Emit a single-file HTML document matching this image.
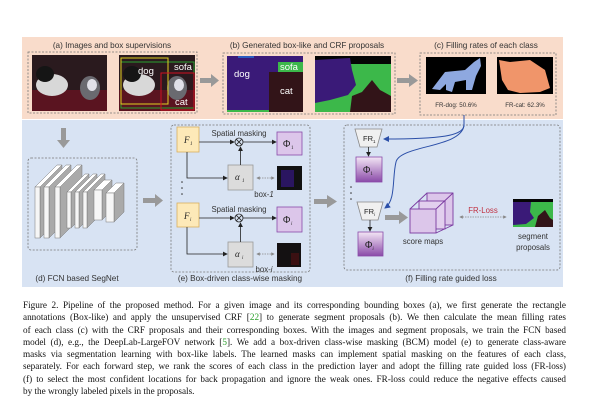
<!DOCTYPE html>
<html><head><meta charset="utf-8"><style>
html,body{margin:0;padding:0;background:#fff;width:600px;height:407px;overflow:hidden}
svg{position:absolute;left:0;top:0}
.cap{position:absolute;left:23px;top:299px;width:543px;font-family:"Liberation Serif",serif;font-size:9.2px;line-height:12.3px;color:#111}
.cap div{text-align:justify;text-align-last:justify;white-space:nowrap}
.cap div.last{text-align-last:left}
.g{color:#2ca02c}
</style></head><body>
<svg width="600" height="407" viewBox="0 0 600 407" font-family="Liberation Sans, sans-serif">
<defs>
<linearGradient id="pg" x1="0" y1="0" x2="0" y2="1"><stop offset="0" stop-color="#f3e6f5"/><stop offset="1" stop-color="#8a4aa8"/></linearGradient>
<marker id="ah" markerWidth="6" markerHeight="6" refX="5" refY="3" orient="auto"><path d="M0,0 L6,3 L0,6 z" fill="#222"/></marker>
<marker id="bh" markerWidth="6" markerHeight="6" refX="5" refY="3" orient="auto"><path d="M0,0 L6,3 L0,6 z" fill="#2b4fa8"/></marker>
<marker id="dh" markerWidth="5" markerHeight="5" refX="4" refY="2.5" orient="auto"><path d="M0,0 L5,2.5 L0,5 z" fill="#888"/></marker>
<marker id="dt" markerWidth="5" markerHeight="5" refX="1" refY="2.5" orient="auto"><path d="M5,0 L0,2.5 L5,5 z" fill="#888"/></marker>
</defs>
<rect x="22" y="37" width="541" height="82" fill="#f9dccb"/>
<rect x="22" y="120" width="541" height="167" fill="#d8e3f3"/>
<g font-size="8.2" fill="#333" text-anchor="middle">
<text x="112" y="48">(a) Images and box supervisions</text>
<text x="307" y="48">(b) Generated box-like and CRF proposals</text>
<text x="486" y="48">(c) Filling rates of each class</text>
</g>
<g fill="none" stroke="#777" stroke-dasharray="2,1.5" stroke-width="0.8">
<rect x="28" y="52" width="169" height="61"/>
<rect x="223" y="53" width="172" height="61" />
<rect x="420" y="53" width="136" height="62" />
</g>
<rect x="32" y="55" width="75" height="56" fill="#2a1a1e"/>
<rect x="32" y="90" width="75" height="21" fill="#5a1420"/>
<ellipse cx="52" cy="85" rx="16" ry="11" fill="#d8d8d8"/>
<ellipse cx="45" cy="74" rx="9" ry="8" fill="#151515"/>
<ellipse cx="90" cy="88" rx="10" ry="12" fill="#6a6a70"/>
<ellipse cx="92" cy="85" rx="5" ry="6" fill="#e0e0e8"/>
<rect x="119" y="55" width="76" height="56" fill="#2a1a1e"/>
<rect x="119" y="90" width="76" height="21" fill="#5a1420"/>
<ellipse cx="139" cy="85" rx="16" ry="11" fill="#d8d8d8"/>
<ellipse cx="132" cy="74" rx="9" ry="8" fill="#151515"/>
<ellipse cx="177" cy="88" rx="10" ry="12" fill="#6a6a70"/>
<ellipse cx="179" cy="85" rx="5" ry="6" fill="#e0e0e8"/>
<rect x="121" y="62" width="73" height="46" fill="none" stroke="#2aa030" stroke-width="1"/>
<rect x="121" y="58" width="47" height="46" fill="none" stroke="#e0d020" stroke-width="1"/>
<rect x="161" y="73" width="33" height="37" fill="none" stroke="#d01020" stroke-width="1"/>
<g fill="#fff" font-size="9.5"><text x="138" y="74">dog</text><text x="174" y="70">sofa</text><text x="175" y="105">cat</text></g>
<rect x="227" y="56" width="76" height="56" fill="#3a1a78"/>
<rect x="238" y="56" width="16" height="2" fill="#2a5ac0"/>
<rect x="278" y="62" width="25" height="10" fill="#3cb84a"/>
<rect x="269" y="72" width="34" height="40" fill="#321418"/>
<rect x="227" y="110" width="42" height="2" fill="#3cb84a"/>
<g fill="#fff" font-size="9.5"><text x="234" y="77">dog</text><text x="280" y="70">sofa</text><text x="280" y="94">cat</text></g>
<rect x="315" y="56" width="76" height="56" fill="#3cb84a"/>
<rect x="315" y="56" width="76" height="8" fill="#050505"/>
<path d="M315,60 L350,58 L352,70 L356,85 L348,95 L330,100 L315,103 Z" fill="#3a1a78"/>
<path d="M350,112 L352,96 L362,92 L372,80 L380,90 L391,96 L391,112 Z" fill="#321418"/>
<rect x="426" y="57" width="60" height="37" fill="#000"/>
<path d="M432,89 L445,72 L465,70 L474,62 L480,58 L481,66 L476,76 L472,90 L466,90 L466,80 L455,82 L452,92 L446,90 L446,84 L440,90 Z" fill="#8ea8e0"/>
<rect x="497" y="57" width="56" height="37" fill="#000"/>
<path d="M499,60 L510,62 L530,60 L545,70 L550,88 L540,92 L520,93 L508,90 L502,80 Z" fill="#f0956a"/>
<g font-size="6.2" fill="#333" text-anchor="middle"><text x="456" y="107">FR-dog: 50.6%</text><text x="525" y="107">FR-cat: 62.3%</text></g>
<g fill="#999">
<path d="M200,78 L211,78 L211,74 L219,80.5 L211,87 L211,83 L200,83 Z"/>
<path d="M397,78 L409,78 L409,74 L418,80.5 L409,87 L409,83 L397,83 Z"/>
<path d="M61,128 L66,128 L66,140 L70,140 L63.5,148 L57,140 L61,140 Z"/>
<path d="M143,198 L155,198 L155,194 L163,200.5 L155,207 L155,203 L143,203 Z"/>
<path d="M314,199 L327,199 L327,195 L337,201.5 L327,208 L327,204 L314,204 Z"/>
<path d="M385,215 L399,215 L399,211 L408,217.5 L399,224 L399,220 L385,220 Z"/>
</g>
<!-- d -->
<rect x="28" y="158" width="109" height="92" rx="3" fill="none" stroke="#777" stroke-dasharray="2,1.5" stroke-width="0.8"/>
<g stroke="#777" stroke-width="0.5">
<g><path d="M35,187 l22,-22 h5 l-22,22 z" fill="#fff"/><path d="M40,187 l22,-22 v51 l-22,22 z" fill="#aaa"/><rect x="35" y="187" width="5" height="51" fill="#f6f6f6"/></g>
<g><path d="M44,187 l22,-22 h5 l-22,22 z" fill="#fff"/><path d="M49,187 l22,-22 v51 l-22,22 z" fill="#aaa"/><rect x="44" y="187" width="5" height="51" fill="#f6f6f6"/></g>
<g><path d="M55,187 l22,-22 h5 l-22,22 z" fill="#fff"/><path d="M60,187 l22,-22 v51 l-22,22 z" fill="#aaa"/><rect x="55" y="187" width="5" height="51" fill="#f6f6f6"/></g>
<g><path d="M67,192 l18,-18 h4 l-18,18 z" fill="#fff"/><path d="M71,192 l18,-18 v36 l-18,18 z" fill="#aaa"/><rect x="67" y="192" width="4" height="36" fill="#f6f6f6"/></g>
<g><path d="M75,192 l18,-18 h4 l-18,18 z" fill="#fff"/><path d="M79,192 l18,-18 v36 l-18,18 z" fill="#aaa"/><rect x="75" y="192" width="4" height="36" fill="#f6f6f6"/></g>
<g><path d="M83,192 l18,-18 h4 l-18,18 z" fill="#fff"/><path d="M87,192 l18,-18 v36 l-18,18 z" fill="#aaa"/><rect x="83" y="192" width="4" height="36" fill="#f6f6f6"/></g>
<g><path d="M94,190 l10,-10 h8 l-10,10 z" fill="#fff"/><path d="M102,190 l10,-10 v30 l-10,10 z" fill="#aaa"/><rect x="94" y="190" width="8" height="30" fill="#f6f6f6"/></g>
<g><path d="M106,193 l10,-10 h8 l-10,10 z" fill="#fff"/><path d="M114,193 l10,-10 v29 l-10,10 z" fill="#aaa"/><rect x="106" y="193" width="8" height="29" fill="#f6f6f6"/></g>
</g>
<g font-size="8.2" fill="#333" text-anchor="middle">
<text x="77" y="281">(d) FCN based SegNet</text>
<text x="240" y="281">(e) Box-driven class-wise masking</text>
<text x="451" y="281">(f) Filling rate guided loss</text>
</g>
<!-- e -->
<rect x="171" y="125" width="139" height="147" rx="3" fill="none" stroke="#777" stroke-dasharray="2,1.5" stroke-width="0.8"/>
<g stroke="#999" stroke-width="0.8">
<rect x="177" y="127" width="22" height="25" fill="#fde9b8" stroke="#d9b060"/>
<rect x="177" y="203" width="22" height="24" fill="#fde9b8" stroke="#d9b060"/>
<rect x="228" y="165" width="25" height="25" fill="#dcdcdc"/>
<rect x="228" y="242" width="25" height="25" fill="#dcdcdc"/>
<rect x="277" y="132" width="25" height="23" fill="#dcc6ea" stroke="#8a4aa8"/>
<rect x="277" y="207" width="25" height="25" fill="#dcc6ea" stroke="#8a4aa8"/>
</g>
<rect x="277" y="166" width="25" height="24" fill="#111"/><rect x="281" y="170" width="13" height="17" fill="#2a1560"/>
<rect x="277" y="243" width="24" height="24" fill="#141112"/><rect x="291" y="253" width="8" height="12" fill="#3a1012"/>
<g font-family="Liberation Serif, serif" font-style="italic" font-size="9" fill="#222">
<text x="184" y="143">F</text><text x="190" y="145" font-size="5">1</text>
<text x="184" y="219">F</text><text x="190" y="221" font-size="5">i</text>
<text x="235" y="180">α</text><text x="242" y="182" font-size="5">1</text>
<text x="235" y="257">α</text><text x="242" y="259" font-size="5">i</text>
</g>
<g font-family="Liberation Serif, serif" font-size="10" fill="#222">
<text x="283" y="147">Φ</text><text x="291" y="149" font-size="5">1</text>
<text x="283" y="223">Φ</text><text x="291" y="225" font-size="5" font-style="italic">i</text>
</g>
<g font-size="7.8" fill="#333" text-anchor="middle">
<text x="239" y="136">Spatial masking</text>
<text x="239" y="212">Spatial masking</text>
<text x="264" y="197">box-<tspan font-style="italic">1</tspan></text>
<text x="264" y="272">box-<tspan font-style="italic">i</tspan></text>
</g>
<g stroke="#222" stroke-width="0.8" fill="none">
<circle cx="239" cy="142" r="4"/><path d="M236.2,139.2 l5.6,5.6 M241.8,139.2 l-5.6,5.6"/>
<circle cx="239" cy="218" r="4"/><path d="M236.2,215.2 l5.6,5.6 M241.8,215.2 l-5.6,5.6"/>
<path d="M199,142 H234" marker-end="url(#ah)"/><path d="M243,142 H276" marker-end="url(#ah)"/>
<path d="M240.5,165 V147" marker-end="url(#ah)"/>
<path d="M187,152 V178 H227" marker-end="url(#ah)"/>
<path d="M199,218 H234" marker-end="url(#ah)"/><path d="M243,218 H276" marker-end="url(#ah)"/>
<path d="M240.5,242 V223" marker-end="url(#ah)"/>
<path d="M187,227 V254 H227" marker-end="url(#ah)"/>
</g>
<g stroke="#888" stroke-width="0.7" stroke-dasharray="1.5,1" fill="none">
<path d="M257,178 H274" marker-start="url(#dt)" marker-end="url(#dh)"/>
<path d="M257,254 H274" marker-start="url(#dt)" marker-end="url(#dh)"/>
<path d="M460,217 H506" marker-start="url(#dt)" marker-end="url(#dh)"/>
</g>
<g fill="#333"><circle cx="182" cy="182" r="0.8"/><circle cx="182" cy="188" r="0.8"/><circle cx="182" cy="194" r="0.8"/>
<circle cx="351" cy="187" r="0.8"/><circle cx="351" cy="193" r="0.8"/><circle cx="351" cy="199" r="0.8"/></g>
<!-- f -->
<rect x="344" y="125" width="216" height="145" rx="3" fill="none" stroke="#777" stroke-dasharray="2,1.5" stroke-width="0.8"/>
<g fill="#f0f0f0" stroke="#888" stroke-width="0.8">
<path d="M355,129 H382 L377,147 H360 Z"/>
<path d="M357,202 H383 L378,220 H362 Z"/>
</g>
<rect x="356" y="157" width="26" height="25" fill="url(#pg)" stroke="#8a4aa8" stroke-width="0.8"/>
<rect x="358" y="232" width="25" height="24" fill="url(#pg)" stroke="#8a4aa8" stroke-width="0.8"/>
<g font-size="7.5" fill="#222"><text x="363" y="141">FR<tspan font-size="4.5" dy="2">1</tspan></text><text x="364" y="214">FR<tspan font-size="4.5" dy="2" font-style="italic">i</tspan></text></g>
<g font-family="Liberation Serif, serif" font-size="10" fill="#222"><text x="363" y="173">Φ<tspan font-size="5" dy="2">1</tspan></text><text x="365" y="248">Φ<tspan font-size="5" dy="2" font-style="italic">i</tspan></text></g>
<g stroke="#222" stroke-width="0.8"><path d="M368.5,147 V156" marker-end="url(#ah)"/><path d="M370,220 V231" marker-end="url(#ah)"/></g>
<g stroke="#2b4fa8" stroke-width="1" fill="none">
<path d="M464,115 V125 C464,136 440,139 384,139" marker-end="url(#bh)"/>
<path d="M464,125 C462,148 400,145 396,162 C392,178 396,200 385,208" marker-end="url(#bh)"/>
</g>
<g stroke="#7a3aa0" stroke-width="0.9" fill="#dcc6ea">
<rect x="427" y="193" width="26" height="32"/>
<rect x="419" y="201" width="26" height="28" fill="#e2cfee"/>
<path d="M410,209 L427,193 M436,209 L453,193 M436,233 L453,225 M410,233 L427,225" fill="none"/>
<rect x="410" y="209" width="26" height="24"/>
</g>
<text x="423" y="244" font-size="7.8" fill="#333" text-anchor="middle">score maps</text>
<text x="483" y="213" font-size="7.8" fill="#c03040" text-anchor="middle">FR-Loss</text>
<rect x="513" y="199" width="40" height="28" fill="#3cb84a"/>
<rect x="513" y="199" width="40" height="3" fill="#050505"/>
<path d="M513,202 L531,202 L530,212 L534,218 L526,224 L513,225 Z" fill="#3a1a78"/>
<path d="M535,227 L538,216 L545,210 L550,218 L553,220 L553,227 Z" fill="#321418"/>
<g font-size="7.8" fill="#333" text-anchor="middle"><text x="533" y="239">segment</text><text x="533" y="250">proposals</text></g>
</svg>
<div class="cap">
<div>Figure 2. Pipeline of the proposed method. For a given image and its corresponding bounding boxes (a), we first generate the rectangle</div>
<div>annotations (Box-like) and apply the unsupervised CRF [<span class="g">22</span>] to generate segment proposals (b). We then calculate the mean filling rates</div>
<div>of each class (c) with the CRF proposals and their corresponding boxes. With the images and segment proposals, we train the FCN based</div>
<div>model (d), e.g., the DeepLab-LargeFOV network [<span class="g">5</span>]. We add a box-driven class-wise masking (BCM) model (e) to generate class-aware</div>
<div>masks via segmentation learning with box-like labels. The learned masks can implement spatial masking on the features of each class,</div>
<div>separately. For each forward step, we rank the scores of each class in the prediction layer and adopt the filling rate guided loss (FR-loss)</div>
<div>(f) to select the most confident locations for back propagation and ignore the weak ones. FR-loss could reduce the negative effects caused</div>
<div class="last">by the wrongly labeled pixels in the proposals.</div>
</div>
</body></html>
